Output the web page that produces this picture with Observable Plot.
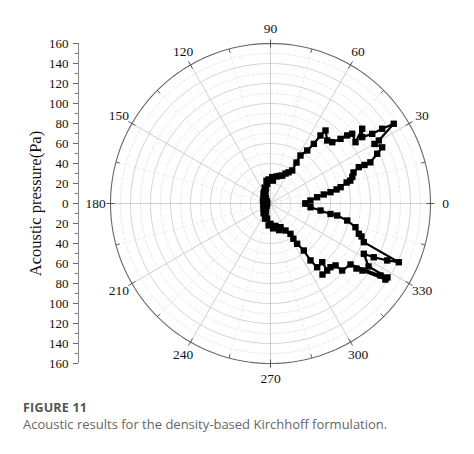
<!DOCTYPE html>
<html><head><meta charset="utf-8">
<script src="https://cdn.jsdelivr.net/npm/d3@7"></script>
<script src="https://cdn.jsdelivr.net/npm/@observablehq/plot@0.6"></script>
<style>
html,body{margin:0;padding:0;background:#fff}
body{width:474px;height:454px;overflow:hidden;position:relative}
#chart{position:absolute;left:0;top:0}
#cap{position:absolute;left:23px;top:399px;font-family:"Open Sans",sans-serif;line-height:17px;white-space:nowrap}
#cap .t{font-size:12.5px;font-weight:700;color:#555;letter-spacing:0.2px}
#cap .d{font-size:13px;color:#666}
</style></head><body>
<div id="chart"></div>
<div id="cap"><div class="t">FIGURE 11</div><div class="d">Acoustic results for the density-based Kirchhoff formulation.</div></div>
<script>
// Observer angle (degrees) and acoustic pressure (Pa), in the order the curve is drawn
const angles = [0,4.3,7.7,9.6,10.7,12,13.1,15.4,16,18,20.5,22.4,22.3,22.4,25,26.7,29.8,30.2,32.9,33.8,34.4,35.9,39.2,35.8,40.5,41.6,42.7,44.8,48,53,53.7,54,55.3,58,57.6,56.7,60,63.4,67.3,72,77.5,86.3,84,94.8,99.5,100,106.7,110,117,120,125,132,140,150,160,165,180,180,195,200,210,220,228,235,240,244,250,256.9,265,270,276,282.5,288,292.9,299,303.4,303,303.5,305.3,305.1,306.2,311.4,310.2,306.2,313.3,316.4,316.9,322.7,326.8,322.9,326.5,323.9,327.7,327.3,331.7,332.5,334,335.4,337.5,340.1,341.1,344.4,347.5,349.8,350.1,352,354.7,360];
const pressures = [35,40,47,54,61,67.5,72,79,83,86,88.6,95.5,101.6,108,117.7,125,119.8,125.3,146.8,134.4,123.3,113.2,118.3,104.8,107.4,102.5,95.3,87,84.8,91.4,84.4,73.7,64.5,56.6,48.5,39.5,36,33.5,30.3,29,27.7,26.4,23,24.1,20,23,15.7,17,10.9,13,12,6.7,9,4.5,8,3.5,3.5,7,4,7.5,4.5,9,6.7,12,9,11.4,16,15.4,22,20.3,25,23,28,25.7,30.9,36.3,42,48.3,57.6,69.6,79,78.2,87.8,88,87.5,89.8,98.1,100.6,131.5,107.8,137.8,113.8,138.4,116.5,106,116.4,129.9,141.1,101,96.8,93.4,88.2,78.6,67.8,60.9,50.5,40.2,35];

// polar grid
const majorRadii = [20,40,60,80,100,120,140];
const minorRadii = [10,30,50,70,90,110,130,150];
const outerRadius = [160];
const spokeAngles = [0,30,60,90,120,150,180,210,240,270,300,330];
const minorSpokeAngles = [15,45,75,105,135,165,195,225,255,285,315,345];
const angleLabels = ["0","30","60","90","120","150","180","210","240","270","300","330"];
// left axis
const yMajorTicks = d3.range(-160,161,20);
const yMinorTicks = d3.range(-150,151,20);

const rad = a => a*Math.PI/180;
const px = (a,r) => r*Math.cos(rad(a));
const py = (a,r) => r*Math.sin(rad(a));
const curve = angles.map((a,i)=>({a, r: pressures[i]}));
const sweep = d3.range(0,361,2);
const ring = radii => radii.flatMap(r => sweep.map(a => ({a, r})));
const serif = "'Liberation Serif','Times New Roman',serif";

const chart = Plot.plot({
  width: 474, height: 390,
  marginLeft: 78, marginRight: 44, marginTop: 43, marginBottom: 27,
  x: {domain: [-192,160], range: [78,430], axis: null},
  y: {domain: [-160,160], range: [363,43], axis: null},
  style: {background: "#fff"},
  marks: [
    Plot.line(ring(minorRadii), {x: d=>px(d.a,d.r), y: d=>py(d.a,d.r), z: "r", stroke: "#e3e3e3", strokeWidth: 0.8, strokeDasharray: "3,2"}),
    Plot.link(minorSpokeAngles, {x1: 0, y1: 0, x2: a=>px(a,160), y2: a=>py(a,160), stroke: "#e6e6e6", strokeWidth: 0.8, strokeDasharray: "3,2"}),
    Plot.line(ring(majorRadii), {x: d=>px(d.a,d.r), y: d=>py(d.a,d.r), z: "r", stroke: "#cfcfcf", strokeWidth: 0.9}),
    Plot.link(spokeAngles, {x1: 0, y1: 0, x2: a=>px(a,160), y2: a=>py(a,160), stroke: "#c8c8c8", strokeWidth: 0.9}),
    Plot.line(ring(outerRadius), {x: d=>px(d.a,d.r), y: d=>py(d.a,d.r), z: "r", stroke: "#666", strokeWidth: 1.1}),
    Plot.link(spokeAngles, {x1: a=>px(a,156), y1: a=>py(a,156), x2: a=>px(a,164), y2: a=>py(a,164), stroke: "#555", strokeWidth: 1}),
    Plot.link(minorSpokeAngles, {x1: a=>px(a,156), y1: a=>py(a,156), x2: a=>px(a,160), y2: a=>py(a,160), stroke: "#666", strokeWidth: 1}),
    Plot.text(spokeAngles, {x: a=>px(a,175), y: a=>py(a,175), text: (a,i)=>angleLabels[i], fontFamily: serif, fontSize: 13.5, fill: "#111"}),
    // left pressure axis
    Plot.ruleX([-192], {y1: -160, y2: 160, stroke: "#888", strokeWidth: 1}),
    Plot.axisY(yMinorTicks, {anchor: "left", tickSize: 3, tickFormat: () => "", label: null, stroke: "#777"}),
    Plot.axisY(yMajorTicks, {anchor: "left", tickSize: 5, tickPadding: 5, tickFormat: d => Math.abs(d), label: null, stroke: "#666", fontFamily: serif, fontSize: 13, fill: "#111"}),
    Plot.text(["Acoustic pressure(Pa)"], {frameAnchor: "left", textAnchor: "middle", rotate: -90, dx: -43, fontFamily: serif, fontSize: 16.5, fill: "#111"}),
    // data
    Plot.line(curve, {x: d=>px(d.a,d.r), y: d=>py(d.a,d.r), stroke: "#000", strokeWidth: 2.2}),
    Plot.dot(curve, {x: d=>px(d.a,d.r), y: d=>py(d.a,d.r), symbol: "square", r: 3.6, fill: "#000", stroke: "none"})
  ]
});
document.getElementById("chart").appendChild(chart);
</script>
</body></html>
